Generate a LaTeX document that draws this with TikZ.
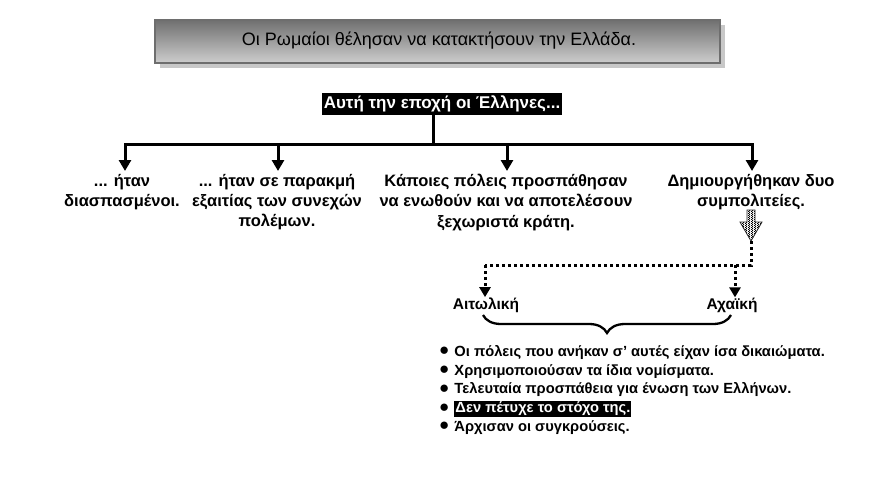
\documentclass[tikz,border=0pt]{standalone}
\usepackage{fontspec}
\setmainfont{Liberation Sans}
\usetikzlibrary{arrows.meta,decorations.pathreplacing,patterns,calc}
\pgfdeclarepatternformonly{finechecker}{\pgfpointorigin}{\pgfpoint{2.4pt}{2.4pt}}{\pgfpoint{2.4pt}{2.4pt}}{%
  \pgfpathrectangle{\pgfpointorigin}{\pgfpoint{1.2pt}{1.2pt}}%
  \pgfpathrectangle{\pgfpoint{1.2pt}{1.2pt}}{\pgfpoint{1.2pt}{1.2pt}}%
  \pgfusepath{fill}}
\definecolor{boxtop}{RGB}{112,112,112}
\definecolor{boxbot}{RGB}{205,205,205}
\definecolor{boxedge}{RGB}{110,110,110}
\definecolor{boxshadow}{RGB}{200,200,200}
\newcommand{\mybul}{\raisebox{0.5pt}{\fontsize{17}{18}\selectfont●}\hspace{5pt}}
\tikzset{
  thickline/.style={line width=3pt},
  downarrow/.style={line width=3pt,-{Triangle[width=12pt,length=11pt]}},
  dotline/.style={line width=3pt,dash pattern=on 3pt off 3pt},
  dotarrow/.style={line width=3pt,dash pattern=on 3pt off 3pt,-{Triangle[width=11pt,length=10pt]}},
  lbl/.style={font=\bfseries\fontsize{16.5}{20.3}\selectfont,align=center,inner sep=0pt,anchor=north},
  sublbl/.style={font=\bfseries\fontsize{15.5}{18}\selectfont,inner sep=0pt,anchor=base},
  fatarrow/.style={draw=black!85,line width=0.8pt,pattern=finechecker},
}
\begin{document}
\begin{tikzpicture}[x=1pt,y=-1pt]
\useasboundingbox (0,0) rectangle (883,477);
% title box
\fill[boxshadow] (160,25) rectangle (725,68);
\shade[top color=boxtop,bottom color=boxbot] (155,20) rectangle (720,63);
\draw[boxedge,line width=1.5pt] (155,20) rectangle (720,63);
\node (title) at (439,41) {\fontsize{18}{21}\selectfont Οι Ρωμαίοι θέλησαν να κατακτήσουν την Ελλάδα.};
% heading
\node[fill=black,text=white,font=\bfseries\fontsize{17}{20}\selectfont,inner xsep=1.5pt,inner ysep=3pt] (head) at (442,104) {Αυτή την εποχή οι Έλληνες...};
\coordinate (bus) at (433,144);
\coordinate (a1) at (125,144);
\coordinate (a2) at (278,144);
\coordinate (a3) at (507,144);
\coordinate (a4) at (752,144);
\node[lbl] (l1) at (122,174) {... ήταν\\διασπασμένοι.};
\node[lbl] (l2) at (277,174) {... ήταν σε παρακμή\\εξαιτίας των συνεχών\\πολέμων.};
\node[lbl] (l3) at (506,174) {Κάποιες πόλεις προσπάθησαν\\να ενωθούν και να αποτελέσουν\\ξεχωριστά κράτη.};
\node[lbl] (l4) at (751,174) {Δημιουργήθηκαν δυο\\συμπολιτείες.};
\draw[thickline] (head.south -| bus) -- (bus);
\draw[thickline,line cap=rect] (a1) -- (a4);
\draw[downarrow] (a1) -- ($(a1 |- l1.north)+(0,-3)$);
\draw[downarrow] (a2) -- ($(a2 |- l2.north)+(0,-3)$);
\draw[downarrow] (a3) -- ($(a3 |- l3.north)+(0,-3)$);
\draw[downarrow] (a4) -- ($(a4 |- l4.north)+(0,-3)$);
% fat hatched arrow
\coordinate (fattip) at (751,241);
\draw[fatarrow] (747,210) -- (755,210) -- (755,222) -- (762,222) -- (fattip) -- (740,222) -- (747,222) -- cycle;
\coordinate (dj) at (751,265);
\node[sublbl] (aitol) at (486,309) {Αιτωλική};
\node[sublbl] (achaia) at (732,309) {Αχαϊκή};
\coordinate (b1) at (485,265);
\coordinate (b2) at (735,265);
\draw[dotline] (fattip) -- (dj) -- (b1);
\draw[dotarrow] (b1) -- (b1 |- aitol.north);
\draw[dotarrow] (b2) -- (b2 |- achaia.north);
% brace
\draw[line width=2.3pt,decorate,decoration={brace,mirror,amplitude=18pt}] (483,315) -- (731,315);
% list
\node[font=\bfseries\fontsize{14.7}{18.8}\selectfont,align=left,anchor=north west,inner sep=0pt] (list) at (439,345) {%
\mybul Οι πόλεις που ανήκαν σ’ αυτές είχαν ίσα δικαιώματα.\\
\mybul Χρησιμοποιούσαν τα ίδια νομίσματα.\\
\mybul Τελευταία προσπάθεια για ένωση των Ελλήνων.\\
\mybul {\fboxsep=1pt\colorbox{black}{\textcolor{white}{Δεν πέτυχε το στόχο της.}}}\\
\mybul Άρχισαν οι συγκρούσεις.};
\end{tikzpicture}
\end{document}
